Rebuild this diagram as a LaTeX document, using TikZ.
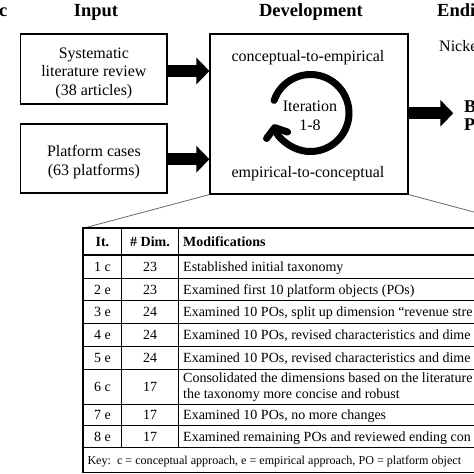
\documentclass[tikz,border=0pt]{standalone}
\usepackage{fontspec}
\setmainfont{Liberation Serif}
\usetikzlibrary{arrows.meta,calc}
\begin{document}
\begin{tikzpicture}[x=1pt,y=1pt,
  inbox/.style={draw, line width=1.2pt, minimum width=146.3pt, inner sep=0pt},
  boxtxt/.style={align=center, font=\fontsize{16}{18.5}\selectfont, inner sep=0pt},
  devbox/.style={draw, line width=1.2pt, minimum width=198pt, minimum height=160pt, inner sep=0pt},
  headtxt/.style={font=\fontsize{18.5}{20}\selectfont\bfseries, inner sep=0pt, anchor=base},
  bodytxt/.style={font=\fontsize{16}{18.5}\selectfont, inner sep=0pt, anchor=base},
  bigarrow/.style={line width=12pt, -{Triangle[length=13pt,width=26pt]}},
  loop/.style={line width=7pt, line cap=round, -{Straight Barb[length=8pt,width=22pt,round]}},
  zoomline/.style={line width=0.7pt, draw=black!65},
  outer/.style={line width=1.8pt},
  inner/.style={line width=1.1pt},
  tab/.style={font=\fontsize{14}{16}\selectfont, inner sep=0pt, anchor=base},
  tabw/.style={tab, anchor=base west},
  tabh/.style={font=\fontsize{14}{16}\selectfont\bfseries, inner sep=0pt, anchor=base},
]
\useasboundingbox (0,0) rectangle (474,-474);
\clip (0,0) rectangle (474,-474);
\fill[white] (0,0) rectangle (474,-474);

% headers
\node[headtxt, anchor=base east] (hc) at (7.5,-16.7) {c};
\node[headtxt] (hin) at (96,-16.7) {Input};
\node[headtxt] (hdev) at (311,-16.7) {Development};
\node[headtxt, anchor=base west] (hend) at (437,-16.7) {Endi};

% input boxes
\node[inbox, minimum height=70pt] (in1) at (93.9,-69) {};
\node[boxtxt] (in1t) at ([yshift=-4pt]in1.center) {Systematic\\literature review\\(38 articles)};
\node[inbox, minimum height=69pt] (in2) at (93.9,-158.5) {};
\node[boxtxt] (in2t) at ([yshift=-3.5pt]in2.center) {Platform cases\\(63 platforms)};

% development box
\node[devbox] (dev) at (309,-114) {};
\node[bodytxt] (c2e) at (308,-61) {conceptual-to-empirical};
\node[bodytxt] (e2c) at (308,-177) {empirical-to-conceptual};
\coordinate (cc) at (310.5,-113);
\draw[loop] ($(cc)+(161:38.5)$) arc[start angle=161, end angle=-163, radius=38.5];
\node[bodytxt] (it1) at (310,-111) {Iteration};
\node[bodytxt] (it2) at (310,-130.7) {1-8};

% arrows
\draw[bigarrow] ([yshift=-2pt]in1.east) -- ([yshift=-2pt]in1.east -| dev.west);
\draw[bigarrow] ([yshift=-0.7pt]in2.east) -- ([yshift=-0.7pt]in2.east -| dev.west);
\coordinate (outtip) at (453.3,-113.3);
\draw[bigarrow] (dev.east |- outtip) -- (outtip);

% ending text
\node[bodytxt, anchor=base west] (nick) at (439,-51.5) {Nicke};
\node[headtxt, anchor=base west, font=\fontsize{18}{20}\selectfont\bfseries] (eb) at (464,-112.7) {B};
\node[headtxt, anchor=base west, font=\fontsize{18}{20}\selectfont\bfseries] (ep) at (464,-130) {P};

% table geometry
\coordinate (tl) at (83,-228.3);
\coordinate (tr) at (535,-228.3);
\draw[zoomline] (dev.south west) -- (tl);
\draw[zoomline] (dev.south east) -- (tr);

\def\xa{83}\def\xb{121.7}\def\xc{178.3}\def\xd{535}
\foreach \yy in {255,278.3,300.7,323.3,346.7,369.4,404.4,425.7,447.5}
  \draw[inner] (\xa,-\yy) -- (\xd,-\yy);
\draw[inner] (\xb,-228.3) -- (\xb,-447.5);
\draw[inner] (\xc,-228.3) -- (\xc,-447.5);
\draw[outer] (tl) rectangle (\xd,-472.5);

% header row
\node[tabh] (h1) at (102.4,-246.5) {It.};
\node[tabh] (h2) at (150,-246.5) {\# Dim.};
\node[tabh, anchor=base west] (h3) at (183,-246.5) {Modifications};

% body rows
\node[tab] (a1) at (102.4,-271.5) {1 c};
\node[tab] (b1) at (150,-271.5) {23};
\node[tabw] (m1) at (183,-271.5) {Established initial taxonomy};
\node[tab] (a2) at (102.4,-294.3) {2 e};
\node[tab] (b2) at (150,-294.3) {23};
\node[tabw] (m2) at (183,-294.3) {Examined first 10 platform objects (POs)};
\node[tab] (a3) at (102.4,-316.8) {3 e};
\node[tab] (b3) at (150,-316.8) {24};
\node[tabw] (m3) at (183,-316.8) {Examined 10 POs, split up dimension “revenue stre};
\node[tab] (a4) at (102.4,-339.8) {4 e};
\node[tab] (b4) at (150,-339.8) {24};
\node[tabw] (m4) at (183,-339.8) {Examined 10 POs, revised characteristics and dime};
\node[tab] (a5) at (102.4,-362.8) {5 e};
\node[tab] (b5) at (150,-362.8) {24};
\node[tabw] (m5) at (183,-362.8) {Examined 10 POs, revised characteristics and dime};
\node[tab] (a6) at (102.4,-391.7) {6 c};
\node[tab] (b6) at (150,-391.7) {17};
\node[tabw] (m6a) at (183,-382) {Consolidated the dimensions based on the literature};
\node[tabw] (m6b) at (183,-398) {the taxonomy more concise and robust};
\node[tab] (a7) at (102.4,-419.8) {7 e};
\node[tab] (b7) at (150,-419.8) {17};
\node[tabw] (m7) at (183,-419.8) {Examined 10 POs, no more changes};
\node[tab] (a8) at (102.4,-441.3) {8 e};
\node[tab] (b8) at (150,-441.3) {17};
\node[tabw] (m8) at (183,-441.3) {Examined remaining POs and reviewed ending con};
\node[tabw, font=\fontsize{12.1}{14}\selectfont] (key) at (87.3,-464.3) {Key:\ \ c = conceptual approach, e = empirical approach, PO = platform object};
\end{tikzpicture}
\end{document}
